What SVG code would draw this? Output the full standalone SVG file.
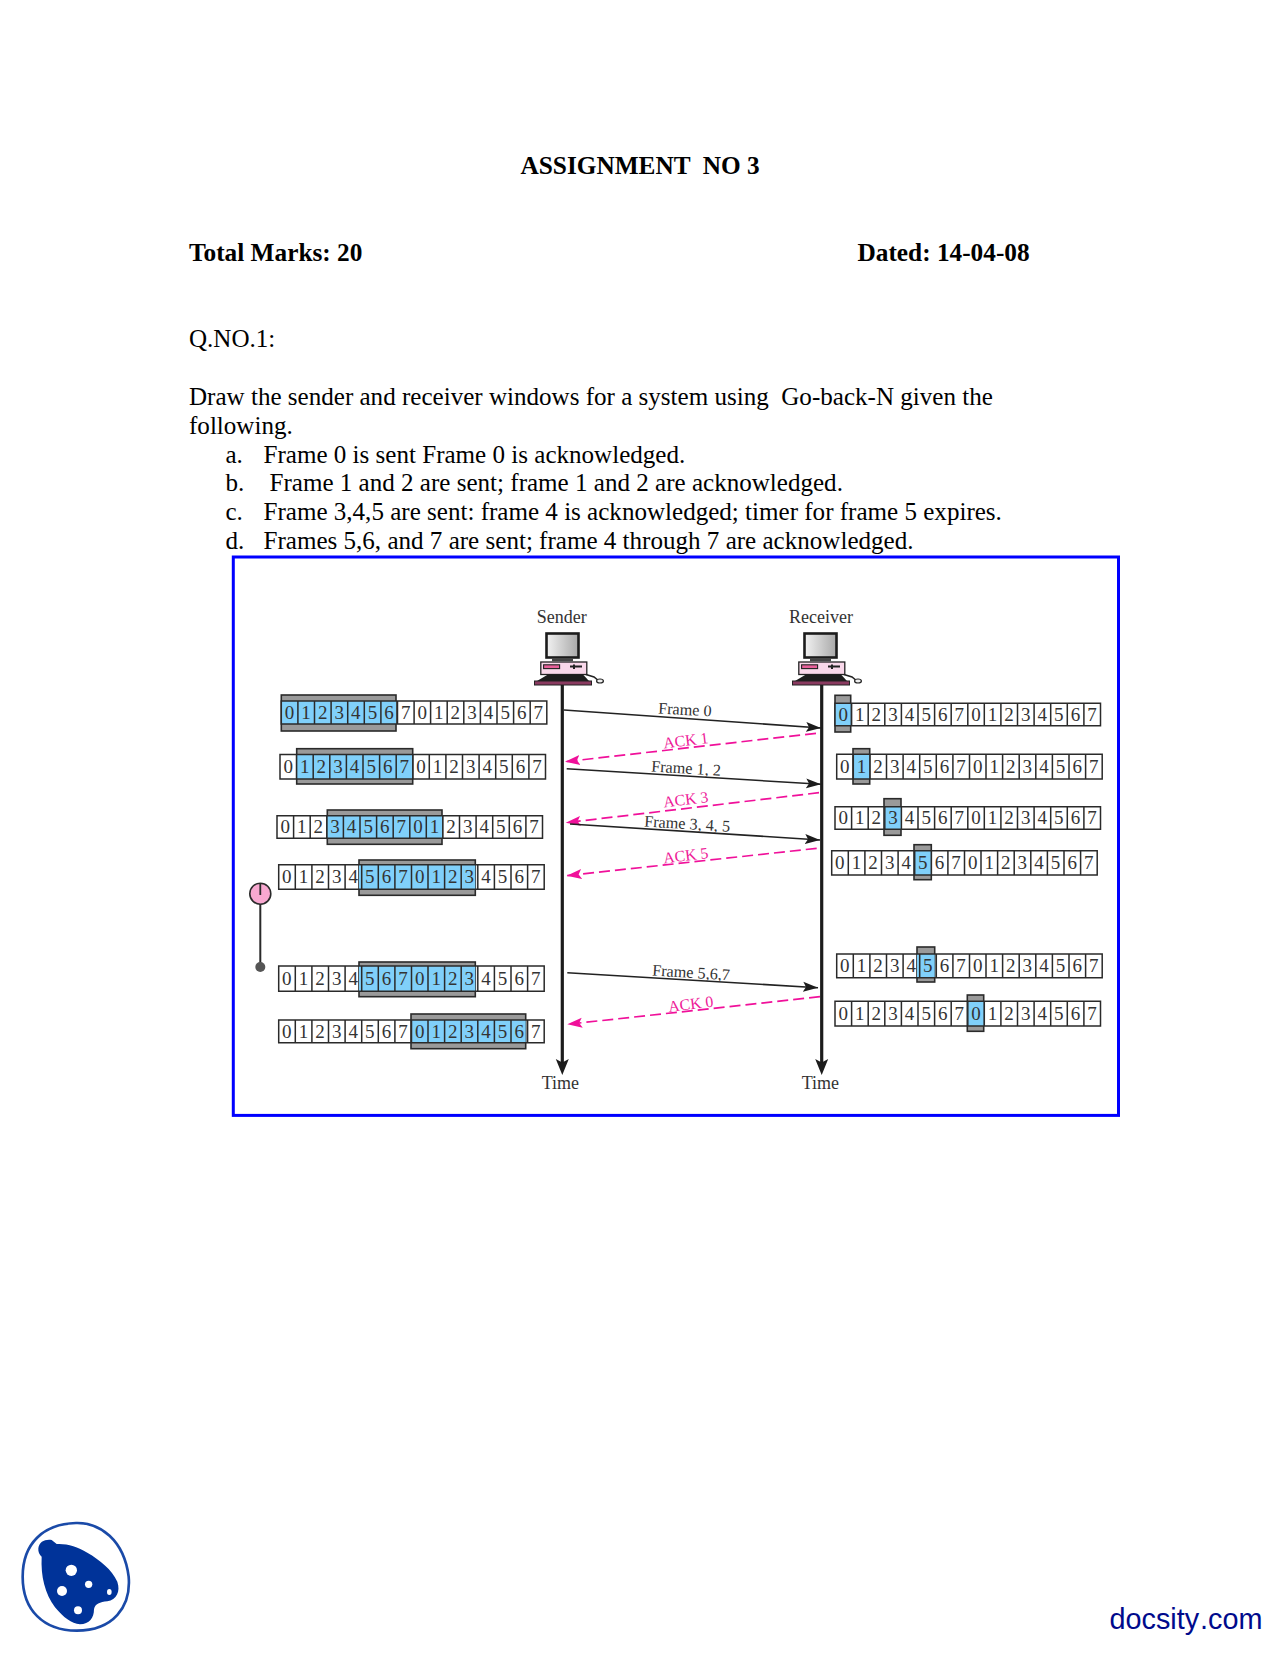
<svg xmlns="http://www.w3.org/2000/svg" width="1280" height="1656" viewBox="0 0 1280 1656">
<style>
text{white-space:pre}
.d{font:25.07px "Liberation Serif","Times New Roman",serif;fill:#000}
.b{font-weight:bold;font-size:25.3px}
.l{font:18px "Liberation Serif","Times New Roman",serif;fill:#333}
.f{font:16.2px "Liberation Serif","Times New Roman",serif;fill:#333}
.a{font:15.8px "Liberation Serif","Times New Roman",serif;fill:#ee1a98}
.n{font:19px "Liberation Serif","Times New Roman",serif;fill:#333}
.bar{fill:#fff}
.win{fill:#9a9a9a;stroke:#2a2a2a;stroke-width:1.6}
.hi{fill:#80d0fa}
.div{fill:none;stroke:#2a2a2a;stroke-width:1.5}
.fr{fill:none;stroke:#222;stroke-width:1.6;marker-end:url(#ah)}
.ak{fill:none;stroke:#f0109a;stroke-width:1.7;stroke-dasharray:11 5;marker-end:url(#am)}
.tl{fill:none;stroke:#1c1c1c;stroke-width:3.2;marker-end:url(#at)}
</style>
<defs>
<marker id="ah" markerUnits="userSpaceOnUse" markerWidth="16" markerHeight="12" refX="15" refY="6" orient="auto"><path d="M0 1L15 6L0 11L3 6Z" fill="#1c1c1c"/></marker>
<marker id="am" markerUnits="userSpaceOnUse" markerWidth="16" markerHeight="12" refX="15" refY="6" orient="auto"><path d="M0 1L15 6L0 11L3 6Z" fill="#f0109a"/></marker>
<marker id="at" markerUnits="userSpaceOnUse" markerWidth="16" markerHeight="20" refX="8" refY="8" orient="auto"><path d="M0 1.5L16 8L0 14.5L3.5 8Z" fill="#1c1c1c"/></marker>
<linearGradient id="scr" x1="0" x2="1" y1="0" y2="0"><stop offset="0" stop-color="#f2f2f2"/><stop offset="1" stop-color="#a8a8a8"/></linearGradient>
<path id="cells" class="div" d="M0 0H265.5V24H0ZM16.6 0v24M33.2 0v24M49.8 0v24M66.4 0v24M83 0v24M99.6 0v24M116.2 0v24M132.8 0v24M149.3 0v24M165.9 0v24M182.5 0v24M199.1 0v24M215.7 0v24M232.3 0v24M248.9 0v24"/>
<g id="pc">
<rect x="546.5" y="633.5" width="32" height="24" fill="url(#scr)" stroke="#1c1c1c" stroke-width="2.6"/>
<rect x="552" y="658" width="21" height="3.2" fill="#444"/>
<rect x="540.8" y="662" width="46" height="12.5" fill="#f9d8ea" stroke="#222" stroke-width="1.3"/>
<rect x="543.6" y="664.8" width="16" height="3.8" fill="#e8609a" stroke="#222" stroke-width="1.1"/>
<path d="M570 666.5H582M574 664.5v4.5" stroke="#222" stroke-width="2" fill="none"/>
<path d="M548 674.5H583L589 681H537Z" fill="#1c1c1c"/>
<rect x="534.5" y="681" width="57" height="4" fill="#8a3a60" stroke="#222" stroke-width="1"/>
<path d="M586 674.5L594 677L599 681" fill="none" stroke="#222" stroke-width="1.6"/>
<ellipse cx="600" cy="681" rx="3.4" ry="2" fill="#eee" stroke="#222" stroke-width="1.2"/>
</g>
</defs>
<rect width="1280" height="1656" fill="#fff"/>
<g id="document-text">
<text class="d b" x="520.5" y="173.5">ASSIGNMENT  NO 3</text>
<text class="d b" x="189" y="261">Total Marks: 20</text>
<text class="d b" x="857.5" y="261">Dated: 14-04-08</text>
<text class="d" x="189" y="347">Q.NO.1:</text>
<text class="d" x="189" y="405">Draw the sender and receiver windows for a system using  Go-back-N given the</text>
<text class="d" x="189" y="433.5">following.</text>
<text class="d" x="225.5" y="463">a.</text><text class="d" x="263.5" y="463">Frame 0 is sent Frame 0 is acknowledged.</text>
<text class="d" x="225.5" y="491">b.</text><text class="d" x="269.5" y="491">Frame 1 and 2 are sent; frame 1 and 2 are acknowledged.</text>
<text class="d" x="225.5" y="520">c.</text><text class="d" x="263.5" y="520">Frame 3,4,5 are sent: frame 4 is acknowledged; timer for frame 5 expires.</text>
<text class="d" x="225.5" y="548.5">d.</text><text class="d" x="263.5" y="548.5">Frames 5,6, and 7 are sent; frame 4 through 7 are acknowledged.</text>
</g>
<rect id="figure-border" x="233.3" y="557" width="885.2" height="558.4" fill="none" stroke="#0000ff" stroke-width="3"/>
<g id="sender">
<use href="#pc"/>
<text class="l" x="536.7" y="623">Sender</text>
</g>
<g id="receiver">
<use href="#pc" x="258"/>
<text class="l" x="789" y="623">Receiver</text>
</g>
<g id="connectors">
<path class="tl" d="M562.3 685V1067"/>
<path class="tl" d="M821.7 685V1067"/>
<path class="fr" d="M564 710L821 728"/>
<path class="ak" d="M816 733.3L565 761.7"/>
<path class="fr" d="M566.7 768.7L821 784.3"/>
<path class="ak" d="M819 792.7L565.7 822.7"/>
<path class="fr" d="M570 824L820 840"/>
<path class="ak" d="M816.7 848.3L566.7 875.7"/>
<path class="fr" d="M567.3 972.7L818 987.7"/>
<path class="ak" d="M820 996.7L567.3 1024.3"/>
</g>
<g id="connector-labels">
<text class="f" transform="translate(658 713.5) rotate(3)">Frame 0</text>
<text class="a" transform="translate(664 748.5) rotate(-7)">ACK 1</text>
<text class="f" transform="translate(651 771.5) rotate(3.5)">Frame 1, 2</text>
<text class="a" transform="translate(664 807.5) rotate(-7)">ACK 3</text>
<text class="f" transform="translate(644 826.5) rotate(3.5)">Frame 3, 4, 5</text>
<text class="a" transform="translate(664 863.5) rotate(-7)">ACK 5</text>
<text class="f" transform="translate(652 975.5) rotate(3.5)">Frame 5,6,7</text>
<text class="a" transform="translate(669 1012) rotate(-7)">ACK 0</text>
<text class="l" x="541.7" y="1089">Time</text>
<text class="l" x="801.7" y="1089">Time</text>
</g>
<g id="timer">
<path d="M260.3 894V967" stroke="#2a2a2a" stroke-width="2" fill="none"/>
<circle cx="260.3" cy="893.7" r="10.5" fill="#f8a8d0" stroke="#2a2a2a" stroke-width="1.6"/>
<path d="M260.3 884V895" stroke="#2a2a2a" stroke-width="1.8"/>
<circle cx="260.3" cy="967" r="5" fill="#555"/>
</g>
<g id="sender-windows">
<g id="s1" transform="translate(281.3 701)"><rect class="bar" width="265.5" height="23"/><rect class="win" x="0" y="-6" width="114.7" height="36"/><rect class="hi" x="0" width="114.7" height="23"/><use href="#cells" transform="scale(1 .958)"/><text class="n" y="17.8" x="3.4 20 36.6 53.2 69.8 86.4 103 119.6 136.2 152.7 169.3 185.9 202.5 219.1 235.7 252.3">0123456701234567</text></g>
<g id="s2" transform="translate(280 754.5)"><rect class="bar" width="265.5" height="24.5"/><rect class="win" x="16.7" y="-5.8" width="116" height="35.3"/><rect class="hi" x="16.7" width="116" height="24.5"/><use href="#cells" transform="scale(1 1.02)"/><text class="n" y="18.5" x="3.4 20 36.6 53.2 69.8 86.4 103 119.6 136.2 152.7 169.3 185.9 202.5 219.1 235.7 252.3">0123456701234567</text></g>
<g id="s3" transform="translate(277 815.7)"><rect class="bar" width="265.5" height="22.5"/><rect class="win" x="50.3" y="-5.7" width="114.7" height="34.3"/><rect class="hi" x="50.3" width="114.7" height="22.5"/><use href="#cells" transform="scale(1 .938)"/><text class="n" y="17.5" x="3.4 20 36.6 53.2 69.8 86.4 103 119.6 136.2 152.7 169.3 185.9 202.5 219.1 235.7 252.3">0123456701234567</text></g>
<g id="s4" transform="translate(278.7 864.7)"><rect class="bar" width="265.5" height="24.6"/><rect class="win" x="80.3" y="-4.7" width="116.3" height="35.3"/><rect class="hi" x="80.3" width="116.3" height="24.6"/><use href="#cells" transform="scale(1 1.025)"/><text class="n" y="18.6" x="3.4 20 36.6 53.2 69.8 86.4 103 119.6 136.2 152.7 169.3 185.9 202.5 219.1 235.7 252.3">0123456701234567</text></g>
<g id="s5" transform="translate(278.7 966)"><rect class="bar" width="265.5" height="25.3"/><rect class="win" x="80.3" y="-4" width="116.3" height="34.7"/><rect class="hi" x="80.3" width="116.3" height="25.3"/><use href="#cells" transform="scale(1 1.054)"/><text class="n" y="19" x="3.4 20 36.6 53.2 69.8 86.4 103 119.6 136.2 152.7 169.3 185.9 202.5 219.1 235.7 252.3">0123456701234567</text></g>
<g id="s6" transform="translate(278.7 1020)"><rect class="bar" width="265.5" height="22.7"/><rect class="win" x="132.3" y="-6" width="114.7" height="34.7"/><rect class="hi" x="132.3" width="114.7" height="22.7"/><use href="#cells" transform="scale(1 .946)"/><text class="n" y="17.6" x="3.4 20 36.6 53.2 69.8 86.4 103 119.6 136.2 152.7 169.3 185.9 202.5 219.1 235.7 252.3">0123456701234567</text></g>
</g>
<g id="receiver-windows">
<g id="r1" transform="translate(835 703.3)"><rect class="bar" width="265.5" height="22.4"/><rect class="win" x="0" y="-8" width="15.7" height="36.7"/><rect class="hi" x="0" width="15.7" height="22.4"/><use href="#cells" transform="scale(1 .933)"/><text class="n" y="17.5" x="3.4 20 36.6 53.2 69.8 86.4 103 119.6 136.2 152.7 169.3 185.9 202.5 219.1 235.7 252.3">0123456701234567</text></g>
<g id="r2" transform="translate(836.7 754.3)"><rect class="bar" width="265.5" height="24.7"/><rect class="win" x="16.3" y="-5.6" width="16.7" height="35.3"/><rect class="hi" x="16.3" width="16.7" height="24.7"/><use href="#cells" transform="scale(1 1.03)"/><text class="n" y="18.6" x="3.4 20 36.6 53.2 69.8 86.4 103 119.6 136.2 152.7 169.3 185.9 202.5 219.1 235.7 252.3">0123456701234567</text></g>
<g id="r3" transform="translate(835 806.7)"><rect class="bar" width="265.5" height="22.6"/><rect class="win" x="49" y="-8" width="17" height="36.6"/><rect class="hi" x="49" width="17" height="22.6"/><use href="#cells" transform="scale(1 .942)"/><text class="n" y="17.6" x="3.4 20 36.6 53.2 69.8 86.4 103 119.6 136.2 152.7 169.3 185.9 202.5 219.1 235.7 252.3">0123456701234567</text></g>
<g id="r4" transform="translate(831.7 850.7)"><rect class="bar" width="265.5" height="24.3"/><rect class="win" x="82.3" y="-6" width="17.3" height="35"/><rect class="hi" x="82.3" width="17.3" height="24.3"/><use href="#cells" transform="scale(1 1.012)"/><text class="n" y="18.5" x="3.4 20 36.6 53.2 69.8 86.4 103 119.6 136.2 152.7 169.3 185.9 202.5 219.1 235.7 252.3">0123456701234567</text></g>
<g id="r5" transform="translate(836.7 954)"><rect class="bar" width="265.5" height="23.7"/><rect class="win" x="80.3" y="-7" width="17.7" height="35"/><rect class="hi" x="80.3" width="17.7" height="23.7"/><use href="#cells" transform="scale(1 .988)"/><text class="n" y="18.2" x="3.4 20 36.6 53.2 69.8 86.4 103 119.6 136.2 152.7 169.3 185.9 202.5 219.1 235.7 252.3">0123456701234567</text></g>
<g id="r6" transform="translate(835 1001.3)"><rect class="bar" width="265.5" height="24.7"/><rect class="win" x="132.3" y="-6.3" width="16.4" height="36.3"/><rect class="hi" x="132.3" width="16.4" height="24.7"/><use href="#cells" transform="scale(1 1.03)"/><text class="n" y="18.6" x="3.4 20 36.6 53.2 69.8 86.4 103 119.6 136.2 152.7 169.3 185.9 202.5 219.1 235.7 252.3">0123456701234567</text></g>
</g>
<g id="docsity-logo" transform="translate(0 1480) scale(.3333)">
<path d="M228 129C300 127 372 180 386 290C394 380 340 452 230 452C130 452 68 390 68 290C68 190 130 132 228 129Z" fill="#fff" stroke="#1a4aa8" stroke-width="8"/>
<path d="M115 205C118 185 135 177 155 180L170 192C200 190 232 200 262 218C300 240 335 268 352 305C362 335 350 358 322 364C300 366 285 372 282 388C282 415 268 432 240 433C215 432 190 412 165 382C135 340 122 290 125 230C118 225 114 215 115 205Z" fill="#003399"/>
<circle cx="214" cy="271" r="17" fill="#fff"/><circle cx="186" cy="333" r="15" fill="#fff"/><circle cx="266" cy="313" r="11" fill="#fff"/><circle cx="234" cy="391" r="12" fill="#fff"/><ellipse cx="328" cy="336" rx="7" ry="9" fill="#fff"/>
</g>
<text id="docsity" x="1109.500" y="1629" style="font:28.800px 'Liberation Sans',Arial,sans-serif;fill:#000a8c">docsity<tspan dx="3">.com</tspan></text>
</svg>
